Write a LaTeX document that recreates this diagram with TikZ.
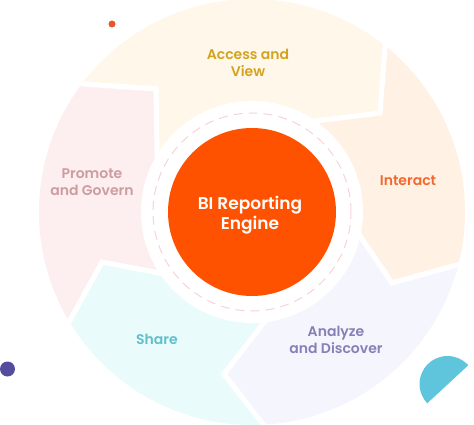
\documentclass[tikz,border=0pt]{standalone}
\usepackage{fontspec}
\setmainfont{Poppins}
\newfontfamily\labfont{Poppins SemiBold}
\usetikzlibrary{calc}
\definecolor{accbg}{HTML}{FFF8EA}
\definecolor{acctx}{HTML}{D3A31F}
\definecolor{intbg}{HTML}{FFF1E4}
\definecolor{inttx}{HTML}{F2682E}
\definecolor{anabg}{HTML}{F5F5FD}
\definecolor{anatx}{HTML}{8581B6}
\definecolor{shabg}{HTML}{E9FBFB}
\definecolor{shatx}{HTML}{5EC0CB}
\definecolor{probg}{HTML}{FDEFEF}
\definecolor{protx}{HTML}{CC9CA1}
\definecolor{corecol}{HTML}{FF5200}
\definecolor{dashcol}{HTML}{F7D3D8}
\definecolor{dotred}{HTML}{E8552B}
\definecolor{dotpurple}{HTML}{544C9C}
\definecolor{halfblue}{HTML}{5EC5DC}
\tikzset{
  segment/.style={draw=white, line width=5pt, line join=miter},
  lab/.style={align=center, font=\labfont\fontsize{14}{16.5}\selectfont, inner sep=0pt},
  corelab/.style={align=center, text=white, font=\labfont\fontsize{17}{20}\selectfont, inner sep=0pt}
}
\begin{document}
\begin{tikzpicture}[x=1pt,y=-1pt]
\useasboundingbox (0,0) rectangle (474,425);
\coordinate (c) at (252,212);
% boundary corners, inner points, far points
\coordinate (cor1) at (156,89);  \coordinate (in1) at (157,155); \coordinate (far1) at (-63,74);
\coordinate (cor2) at (380,113); \coordinate (in2) at (316,121); \coordinate (far2) at (395,-85);
\coordinate (cor3) at (392,283); \coordinate (in3) at (360,236); \coordinate (far3) at (587,229);
\coordinate (cor4) at (224,374); \coordinate (in4) at (265,321); \coordinate (far4) at (338,521);
\coordinate (cor5) at (102,262); \coordinate (in5) at (160,273); \coordinate (far5) at (6,436);
\coordinate (mA) at (203,-185);
\coordinate (mI) at (632,86);
\coordinate (mN) at (504,522);
\coordinate (mS) at (62,564);
\coordinate (mP) at (-148,190);
\begin{scope}
\clip (c) circle[radius=213pt];
\filldraw[segment, fill=accbg] (c) -- ($(cor1)!1.3!(in1)$) -- (cor1) -- (far1) -- (mA) -- (far2) -- (cor2) -- ($(cor2)!1.3!(in2)$) -- cycle;
\filldraw[segment, fill=intbg] (c) -- ($(cor2)!1.3!(in2)$) -- (cor2) -- (far2) -- (mI) -- (far3) -- (cor3) -- ($(cor3)!1.3!(in3)$) -- cycle;
\filldraw[segment, fill=anabg] (c) -- ($(cor3)!1.3!(in3)$) -- (cor3) -- (far3) -- (mN) -- (far4) -- (cor4) -- ($(cor4)!1.3!(in4)$) -- cycle;
\filldraw[segment, fill=shabg] (c) -- ($(cor4)!1.3!(in4)$) -- (cor4) -- (far4) -- (mS) -- (far5) -- (cor5) -- ($(cor5)!1.3!(in5)$) -- cycle;
\filldraw[segment, fill=probg] (c) -- ($(cor5)!1.3!(in5)$) -- (cor5) -- (far5) -- (mP) -- (far1) -- (cor1) -- ($(cor1)!1.3!(in1)$) -- cycle;
\end{scope}
\fill[white] (c) circle[radius=111pt];
\draw[dashcol, line width=1pt, dash pattern=on 9pt off 6pt] (c) circle[radius=99pt];
\fill[corecol] (c) circle[radius=84pt];
% decorations
\fill[dotred] (112,24) circle[radius=3.5pt];
\fill[dotpurple] (7.5,369) circle[radius=7.5pt];
\begin{scope}
\clip (447.5,384) circle[radius=28pt];
\fill[halfblue] (407,422) -- (488,347) -- (428,282) -- (347,357) -- cycle;
\end{scope}
% labels
\node[lab, text=acctx] (acc) at (248,63) {Access and\\View};
\node[lab, text=inttx] (int) at (408,181) {Interact};
\node[lab, text=anatx] (ana) at (336,340) {Analyze\\and Discover};
\node[lab, text=shatx] (sha) at (157,339) {Share};
\node[lab, text=protx] (pro) at (92,182) {Promote\\and Govern};
\node[corelab] (core) at (250,215) {BI Reporting\\Engine};
\end{tikzpicture}
\end{document}
